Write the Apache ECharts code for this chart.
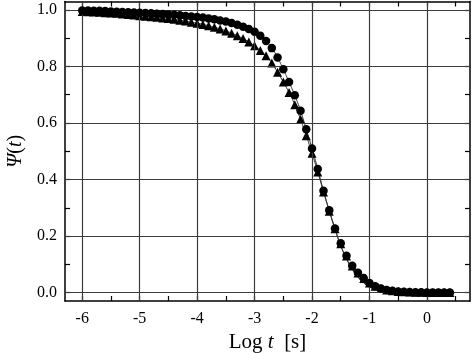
<!DOCTYPE html>
<html>
<head>
<meta charset="utf-8">
<script src="https://cdn.jsdelivr.net/npm/echarts@6/dist/echarts.min.js"></script>
<style>html,body{margin:0;padding:0;background:#fff;}#c{width:474px;height:353px;}</style>
</head>
<body>
<div id="c"></div>
<script>
var logT = [-6.0,-5.9,-5.8,-5.7,-5.6,-5.5,-5.4,-5.3,-5.2,-5.1,-5.0,-4.9,-4.8,-4.7,-4.6,-4.5,-4.4,-4.3,-4.2,-4.1,-4.0,-3.9,-3.8,-3.7,-3.6,-3.5,-3.4,-3.3,-3.2,-3.1,-3.0,-2.9,-2.8,-2.7,-2.6,-2.5,-2.4,-2.3,-2.2,-2.1,-2.0,-1.9,-1.8,-1.7,-1.6,-1.5,-1.4,-1.3,-1.2,-1.1,-1.0,-0.9,-0.8,-0.7,-0.6,-0.5,-0.4,-0.3,-0.2,-0.1,0.0,0.1,0.2,0.3,0.4];
var circles = [0.998,0.998,0.997,0.997,0.996,0.995,0.994,0.993,0.992,0.991,0.990,0.989,0.988,0.987,0.986,0.984,0.983,0.981,0.979,0.977,0.975,0.973,0.970,0.967,0.963,0.959,0.954,0.948,0.941,0.933,0.923,0.909,0.890,0.865,0.832,0.790,0.745,0.698,0.643,0.578,0.510,0.437,0.360,0.291,0.227,0.174,0.130,0.095,0.070,0.051,0.034,0.022,0.014,0.009,0.006,0.004,0.003,0.002,0.001,0.001,0.000,0.000,0.000,0.000,0.000];
var triangles = [0.995,0.994,0.993,0.992,0.990,0.989,0.988,0.986,0.984,0.982,0.980,0.978,0.976,0.974,0.972,0.970,0.967,0.964,0.961,0.957,0.953,0.949,0.944,0.939,0.933,0.926,0.918,0.909,0.899,0.887,0.873,0.857,0.838,0.812,0.780,0.745,0.708,0.665,0.613,0.555,0.493,0.427,0.356,0.288,0.226,0.173,0.129,0.094,0.069,0.050,0.034,0.022,0.014,0.009,0.006,0.004,0.003,0.002,0.001,0.001,0.000,0.000,0.000,0.000,0.000];
var fitCircles = [0.998,0.998,0.997,0.997,0.996,0.995,0.994,0.993,0.992,0.991,0.990,0.989,0.988,0.987,0.986,0.984,0.983,0.981,0.979,0.977,0.975,0.973,0.970,0.967,0.963,0.959,0.954,0.948,0.941,0.933,0.923,0.909,0.890,0.865,0.832,0.790,0.745,0.698,0.643,0.578,0.510,0.437,0.360,0.291,0.227,0.167,0.121,0.084,0.056,0.036,0.021,0.012,0.006,0.003,0.001,0.000,0.000,0.000,0.000,0.000,0.000,0.000,0.000,0.000,0.000];
var fitTriangles = [0.995,0.994,0.993,0.992,0.990,0.989,0.988,0.986,0.984,0.982,0.980,0.978,0.976,0.974,0.972,0.970,0.967,0.964,0.961,0.957,0.953,0.949,0.944,0.939,0.933,0.926,0.918,0.909,0.899,0.887,0.873,0.857,0.838,0.812,0.780,0.745,0.708,0.665,0.613,0.555,0.493,0.427,0.356,0.288,0.224,0.165,0.119,0.082,0.054,0.034,0.020,0.011,0.006,0.003,0.001,0.000,0.000,0.000,0.000,0.000,0.000,0.000,0.000,0.000,0.000];

var xTicks = [-6,-5.5,-5,-4.5,-4,-3.5,-3,-2.5,-2,-1.5,-1,-0.5,0,0.5];
var xLabels = [-6,-5,-4,-3,-2,-1,0];
var yTicks = [0,0.1,0.2,0.3,0.4,0.5,0.6,0.7,0.8,0.9,1.0];
var yLabels = [0,0.2,0.4,0.6,0.8,1.0];

var FONT = 'Liberation Serif';
function pairs(ys){ return logT.map(function(x,i){ return [x, ys[i]]; }); }

var axisLineStyle = {color:'#000', width:1.5};
function xAxisDef(pos, showLabel){
  return {
    type:'value', min:-6.3, max:0.75, position:pos,
    axisLine:{show:true, onZero:false, lineStyle:axisLineStyle},
    axisTick:{show:true, inside:true, length:5, customValues:xTicks, lineStyle:{color:'#000', width:1.2}},
    axisLabel:{show:showLabel, customValues:xLabels, fontFamily:FONT, fontSize:16, color:'#000', margin:10,
      formatter:function(v){ return String(Math.round(v)); }},
    splitLine:{show:false},
    name: showLabel ? 'Log {i|t}  [s]' : '',
    nameLocation:'middle', nameGap:30,
    nameTextStyle:{fontFamily:FONT, fontSize:21, color:'#000',
      rich:{i:{fontFamily:FONT, fontSize:21, fontStyle:'italic', color:'#000'}}}
  };
}
function yAxisDef(pos, showLabel){
  return {
    type:'value', min:-0.03, max:1.03, position:pos,
    axisLine:{show:true, onZero:false, lineStyle:axisLineStyle},
    axisTick:{show:true, inside:true, length:5, customValues:yTicks, lineStyle:{color:'#000', width:1.2}},
    axisLabel:{show:showLabel, customValues:yLabels, fontFamily:FONT, fontSize:16, color:'#000', margin:8,
      formatter:function(v){ return v.toFixed(1); }},
    splitLine:{show:false},
    name: showLabel ? '{i|Ψ}({i|t})' : '',
    nameLocation:'middle', nameGap:39,
    nameTextStyle:{fontFamily:FONT, fontSize:20, color:'#000',
      rich:{i:{fontFamily:FONT, fontSize:20, fontStyle:'italic', color:'#000'}}}
  };
}

var gridLines = xLabels.map(function(v){ return {xAxis:v}; }).concat(yLabels.map(function(v){ return {yAxis:v}; }));

var chart = echarts.init(document.getElementById('c'), null, {renderer:'canvas'});
chart.setOption({
  animation:false,
  backgroundColor:'#fff',
  grid:{left:65, right:4, top:1.5, bottom:52, containLabel:false, outerBoundsMode:'none'},
  xAxis:[xAxisDef('bottom', true), xAxisDef('top', false)],
  yAxis:[yAxisDef('left', true), yAxisDef('right', false)],
  series:[
    {type:'line', data:[], silent:true, symbol:'none',
     markLine:{silent:true, symbol:['none','none'], label:{show:false},
       lineStyle:{color:'#3c3c3c', width:1.2, type:'solid'}, emphasis:{disabled:true}, data:gridLines}},
    {type:'line', data:pairs(fitTriangles), symbol:'none', smooth:true, lineStyle:{color:'#333', width:1}, z:3},
    {type:'line', data:pairs(fitCircles), symbol:'none', smooth:true, lineStyle:{color:'#333', width:1}, z:3},
    {type:'scatter', data:pairs(triangles), symbol:'triangle', symbolSize:9, itemStyle:{color:'#000', opacity:1}, z:4},
    {type:'scatter', data:pairs(circles), symbol:'circle', symbolSize:8.5, itemStyle:{color:'#000', opacity:1}, z:5}
  ]
});
</script>
</body>
</html>
